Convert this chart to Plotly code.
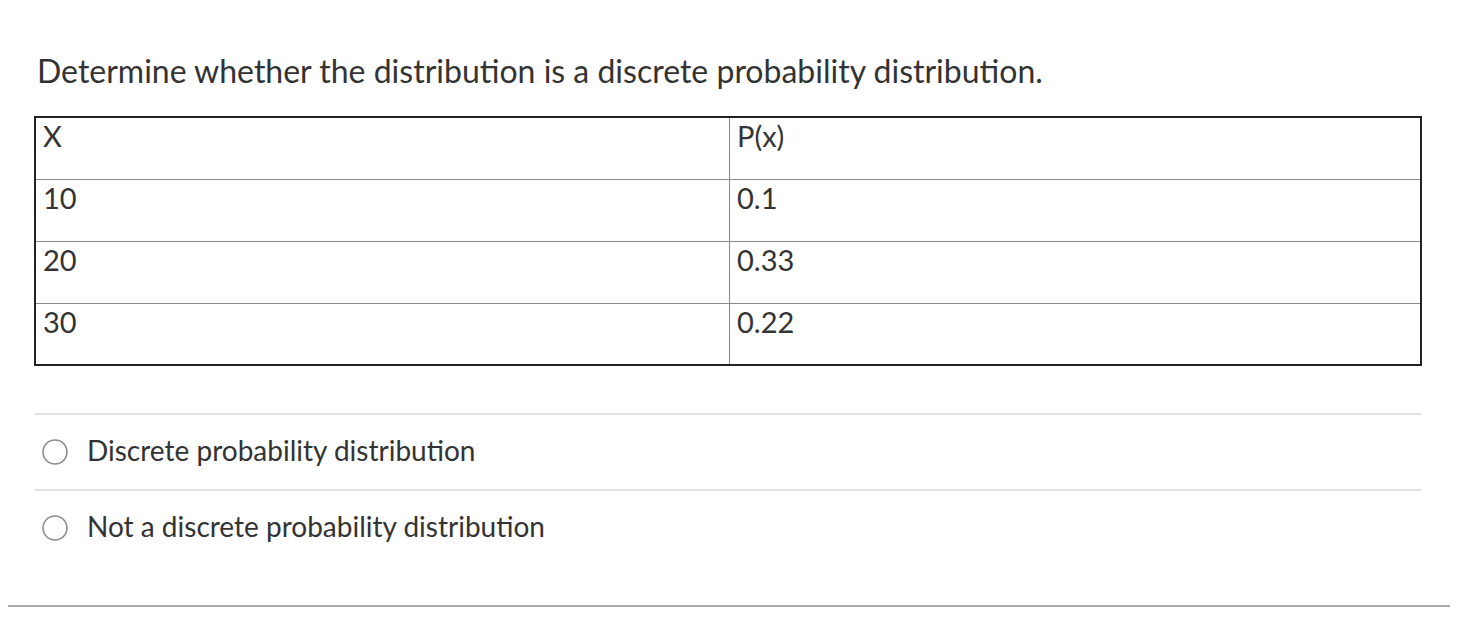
import plotly.graph_objects as go

W, H = 1458, 623
OFF = 8
title = "Determine whether the distribution is a discrete probability distribution."
headers = ["X", "P(x)"]
x_vals = ["10", "20", "30"]
p_vals = ["0.1", "0.33", "0.22"]
options = ["Discrete probability distribution", "Not a discrete probability distribution"]

def px(x): return (x - OFF) / W
def py(y): return 1 - (y - OFF) / H

fig = go.Figure(go.Table(
    domain=dict(x=[px(35), px(1421)], y=[py(366), py(117)]),
    columnwidth=[694, 692],
    header=dict(values=headers, height=62, align="left", fill_color="white",
                line=dict(color="#8a8a8a", width=1),
                font=dict(family="Lato", size=29, color="#333333")),
    cells=dict(values=[x_vals, p_vals], height=62, align="left", fill_color="white",
               line=dict(color="#8a8a8a", width=1),
               font=dict(family="Lato", size=29, color="#333333")),
))

shapes = [
    dict(type="rect", xref="paper", yref="paper", x0=px(35), x1=px(1421), y0=py(365), y1=py(117),
         line=dict(color="#222222", width=2)),
    dict(type="line", xref="paper", yref="paper", x0=px(35), x1=px(1421), y0=py(414), y1=py(414),
         line=dict(color="#d9d9d9", width=1.5)),
    dict(type="line", xref="paper", yref="paper", x0=px(35), x1=px(1421), y0=py(490), y1=py(490),
         line=dict(color="#d9d9d9", width=1.5)),
    dict(type="line", xref="paper", yref="paper", x0=0, x1=1, y0=py(606), y1=py(606),
         line=dict(color="#aaaaaa", width=2)),
]
annotations = [dict(text=title, x=px(35), y=py(70), xref="paper", yref="paper", xanchor="left",
                    yanchor="middle", showarrow=False,
                    font=dict(family="Lato", size=32, color="#333333"))]
for i, opt in enumerate(options):
    yc = 452 + 76 * i
    shapes.append(dict(type="circle", xref="paper", yref="paper", x0=px(43), x1=px(67),
                       y0=py(yc + 12), y1=py(yc - 12), line=dict(color="#888888", width=1.5)))
    annotations.append(dict(text=opt, x=px(85), y=py(yc - 2), xref="paper", yref="paper",
                            xanchor="left", yanchor="middle", showarrow=False,
                            font=dict(family="Lato", size=28, color="#333333")))

fig.update_layout(width=W, height=H, margin=dict(l=0, r=0, t=0, b=0),
                  paper_bgcolor="white", plot_bgcolor="white",
                  shapes=shapes, annotations=annotations)
fig.write_html("out.html")
